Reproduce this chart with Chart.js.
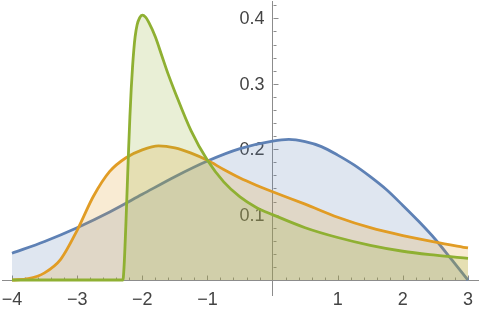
<!DOCTYPE html>
<html>
<head>
<meta charset="utf-8">
<script src="https://cdn.jsdelivr.net/npm/chart.js@4.4.1/dist/chart.umd.min.js"></script>
<style>
  html, body { margin: 0; padding: 0; background: #fff; }
  #wrap { width: 480px; height: 310px; }
</style>
</head>
<body>
<div id="wrap"><canvas id="chart"></canvas></div>
<script>
// values
const blueX = [-4, -3.5, -3, -2.5, -2, -1.5, -1, -0.5, 0, 0.25, 0.5, 0.75, 1, 1.25, 1.5, 1.75, 2, 2.25, 2.5, 2.75, 3];
const blueY = [0.041, 0.059, 0.080, 0.104, 0.131, 0.158, 0.182, 0.201, 0.2125, 0.215, 0.2115, 0.204, 0.191, 0.176, 0.158, 0.138, 0.114, 0.089, 0.062, 0.031, 0.0];

const orangeX = [-4, -3.75, -3.5, -3.25, -3, -2.75, -2.5, -2.25, -2, -1.75, -1.5, -1.25, -1, -0.75, -0.5, -0.25, 0, 0.5, 1, 1.5, 2, 2.5, 3];
const orangeY = [0, 0.002, 0.011, 0.032, 0.076, 0.128, 0.166, 0.187, 0.199, 0.205, 0.202, 0.194, 0.183, 0.169, 0.156, 0.145, 0.135, 0.116, 0.096, 0.080, 0.068, 0.058, 0.049];

const greenX = [-4, -2.3, -2.29, -2.27, -2.25, -2.23, -2.21, -2.19, -2.17, -2.15, -2.13, -2.11, -2.08, -2.04, -2, -1.95, -1.9, -1.8, -1.7, -1.6, -1.5, -1.25, -1, -0.75, -0.5, -0.25, 0, 0.5, 1, 1.5, 2, 2.5, 3];
const greenY = [0, 0, 0.005, 0.04, 0.09, 0.145, 0.20, 0.25, 0.292, 0.325, 0.352, 0.372, 0.390, 0.401, 0.405, 0.402, 0.394, 0.372, 0.343, 0.314, 0.288, 0.228, 0.183, 0.150, 0.127, 0.111, 0.100, 0.080, 0.065, 0.053, 0.044, 0.038, 0.033];

const xTickLabels = [-4, -3, -2, -1, 1, 2, 3];
const yTickLabels = [0.1, 0.2, 0.3, 0.4];

const axisColor = '#8c8c8c';
const labelColor = '#444444';
const labelFont = '18px "Liberation Sans", Arial, sans-serif';

function pts(xs, ys) {
  return xs.map((x, i) => ({ x: x, y: ys[i] }));
}

function series(label, xs, ys, rgb, order) {
  return {
    label: label,
    data: pts(xs, ys),
    borderColor: 'rgb(' + rgb + ')',
    backgroundColor: 'rgba(' + rgb + ',0.2)',
    borderWidth: 2.8,
    fill: 'origin',
    pointRadius: 0,
    cubicInterpolationMode: 'monotone',
    order: order
  };
}

function fmtX(v) {
  return v < 0 ? '\u2212' + Math.abs(v) : String(v);
}

// inward tick marks and tick labels, Mathematica style
const axesDecor = {
  id: 'axesDecor',
  beforeDatasetsDraw(chart) {
    const ctx = chart.ctx;
    const xs = chart.scales.x, ys = chart.scales.y;
    const x0 = Math.round(xs.getPixelForValue(0)) + 0.5;
    const y0 = Math.round(ys.getPixelForValue(0)) + 0.5;
    ctx.save();
    ctx.strokeStyle = axisColor;
    ctx.lineWidth = 1;
    ctx.beginPath();
    for (let i = -20; i <= 15; i++) {
      if (i === 0) continue;
      const px = Math.round(xs.getPixelForValue(i * 0.2)) + 0.5;
      const len = i % 5 === 0 ? 5 : 3;
      ctx.moveTo(px, y0);
      ctx.lineTo(px, y0 - len);
    }
    for (let j = 1; j <= 21; j++) {
      const py = Math.round(ys.getPixelForValue(j * 0.02)) + 0.5;
      const len = j % 5 === 0 ? 5 : 3;
      ctx.moveTo(x0, py);
      ctx.lineTo(x0 + len, py);
    }
    ctx.stroke();

    ctx.fillStyle = labelColor;
    ctx.font = labelFont;
    ctx.textAlign = 'center';
    ctx.textBaseline = 'alphabetic';
    xTickLabels.forEach(v => {
      ctx.fillText(fmtX(v), xs.getPixelForValue(v), y0 + 24);
    });
    ctx.textAlign = 'right';
    ctx.textBaseline = 'middle';
    yTickLabels.forEach(v => {
      ctx.fillText(v.toFixed(1), x0 - 9, ys.getPixelForValue(v) + 1);
    });
    ctx.restore();
  }
};

new Chart(document.getElementById('chart'), {
  type: 'line',
  data: {
    datasets: [
      series('blue', blueX, blueY, '94,129,181', 3),
      series('orange', orangeX, orangeY, '225,156,36', 2),
      series('green', greenX, greenY, '143,176,50', 1)
    ]
  },
  options: {
    responsive: true,
    maintainAspectRatio: false,
    animation: false,
    layout: { padding: { left: 2, right: 2, top: 1, bottom: 15 } },
    plugins: {
      legend: { display: false },
      tooltip: { enabled: false }
    },
    scales: {
      x: {
        type: 'linear',
        min: -4.1535,
        max: 3.1535,
        position: { y: 0 },
        grid: { display: false },
        border: { display: true, color: axisColor, width: 1 },
        ticks: { display: false }
      },
      y: {
        type: 'linear',
        min: -0.0229,
        max: 0.4266,
        position: { x: 0 },
        grid: { display: false },
        border: { display: true, color: axisColor, width: 1 },
        ticks: { display: false }
      }
    }
  },
  plugins: [axesDecor]
});
</script>
</body>
</html>
